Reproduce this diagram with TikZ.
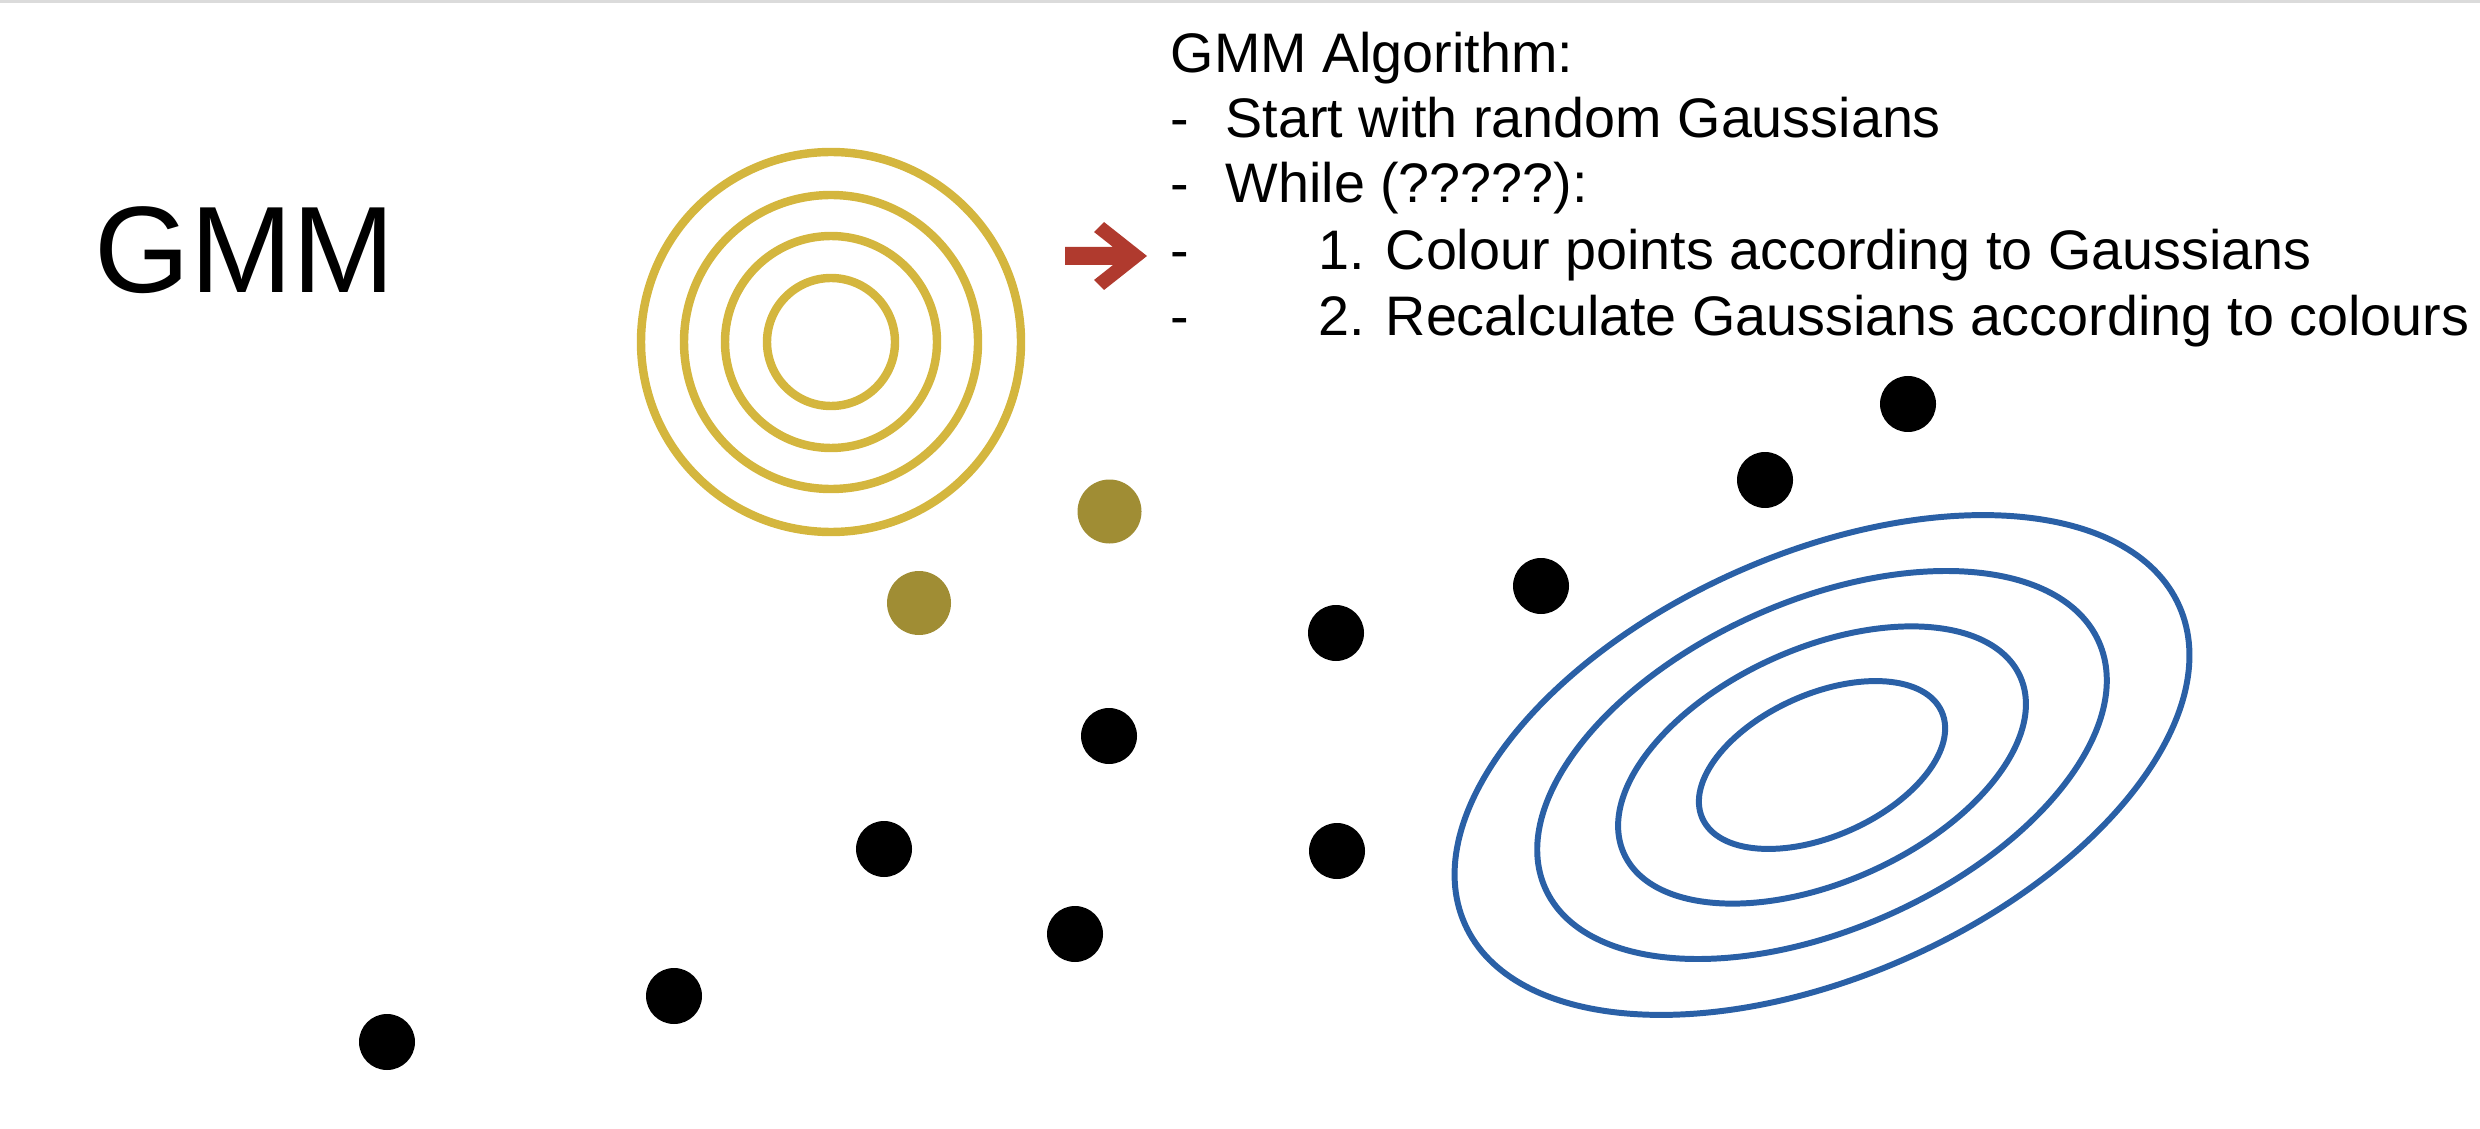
\documentclass[tikz,border=0pt]{standalone}
\usepackage{fontspec}
\setmainfont{Liberation Sans}
\usepackage{tikz}
\definecolor{gmmyellow}{RGB}{212,182,62}
\definecolor{gmmolive}{RGB}{160,141,52}
\definecolor{gmmblue}{RGB}{42,96,166}
\definecolor{gmmred}{RGB}{176,58,46}

\begin{document}
\begin{tikzpicture}[every node/.style={inner sep=0pt, anchor=base west},
  algo/.style={font=\fontsize{15.85}{19}\selectfont}]
\useasboundingbox (0,0) rectangle (24.80,11.28);
\fill[black!14] (0,11.25) rectangle (24.80,11.28);
\node[font=\fontsize{35}{42}\selectfont] (gmm) at (0.94,8.35) {GMM};
% algorithm text
\node[algo] (head) at (11.70,10.55) {GMM Algorithm:};
\foreach \y/\n in {9.90/a,9.25/b,8.58/c,7.92/d}
  \node[algo] (dash\n) at (11.70,\y) {-};
\node[algo] (start) at (12.25,9.90) {Start with random Gaussians};
\node[algo] (while) at (12.25,9.25) {While (?????):};
\node[algo] (stepone) at (13.18,8.58) {1. Colour points according to Gaussians};
\node[algo] (steptwo) at (13.18,7.92) {2. Recalculate Gaussians according to colours};
% red pointer
\fill[gmmred] (10.65,8.81) -- (11.13,8.81) -- (10.94,8.96) -- (11.04,9.06) -- (11.47,8.72)
  -- (11.04,8.38) -- (10.94,8.48) -- (11.13,8.63) -- (10.65,8.63) -- cycle;
% yellow gaussian
\foreach \r in {1.90,1.47,1.06,0.64}
  \draw[gmmyellow, line width=2.4pt] (8.31,7.86) circle (\r);
% blue gaussian
\foreach \ra/\rb in {3.91/2.11,3.03/1.64,2.17/1.17,1.31/0.71}
  \draw[gmmblue, line width=1.7pt, rotate around={24:(18.22,3.63)}]
    (18.22,3.63) ellipse [x radius=\ra, y radius=\rb];
% points
\foreach \px/\py in {11.095/6.165,9.19/5.25}
  \fill[gmmolive] (\px,\py) circle (0.32);
\foreach \px/\py in {19.08/7.24,17.65/6.48,15.41/5.42,13.36/4.95,11.09/3.92,
    8.84/2.79,13.37/2.77,10.75/1.94,6.74/1.32,3.87/0.86}
  \fill (\px,\py) circle (0.28);
\end{tikzpicture}
\end{document}
